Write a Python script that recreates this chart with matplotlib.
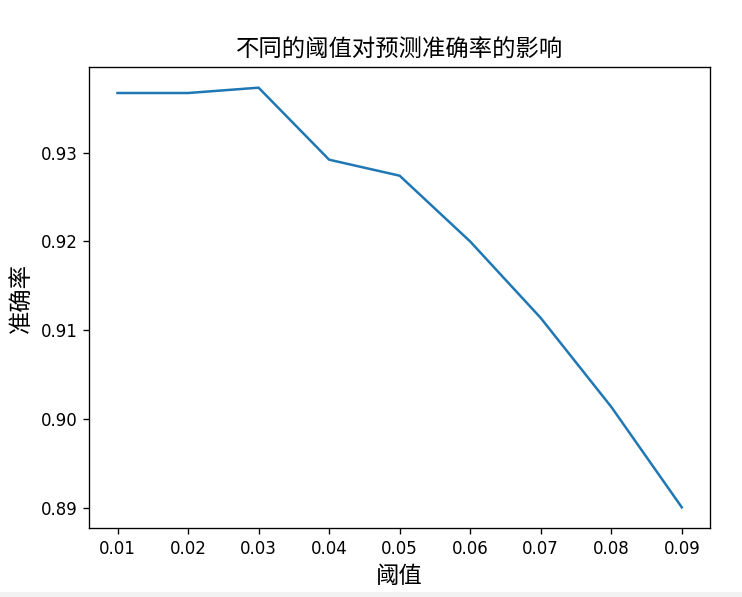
import matplotlib
matplotlib.use("Agg")
import matplotlib.pyplot as plt
from matplotlib.patches import Rectangle

plt.rcParams['font.family'] = ['Noto Sans CJK SC', 'DejaVu Sans']

thresholds = [0.01, 0.02, 0.03, 0.04, 0.05, 0.06, 0.07, 0.08, 0.09]
accuracy = [0.9367, 0.9367, 0.9373, 0.9292, 0.9274, 0.9200, 0.9114, 0.9014, 0.8901]
yticks = [0.89, 0.90, 0.91, 0.92, 0.93]

DPI = 120
fig = plt.figure(figsize=(742 / DPI, 597 / DPI), dpi=DPI)
W, H = 742, 597
ax = fig.add_axes([89.3 / W, (H - 528.3) / H, (710 - 89.3) / W, (528.3 - 66.7) / H])

ax.plot(thresholds, accuracy, color='#1f77b4', linewidth=1.5)
ax.set_xticks(thresholds)
ax.set_xticklabels([f"{t:.2f}" for t in thresholds], family='DejaVu Sans')
ax.set_yticks(yticks)
ax.set_yticklabels([f"{t:.2f}" for t in yticks], family='DejaVu Sans')
ax.tick_params(labelsize=10)

ax.set_title('不同的阈值对预测准确率的影响', fontsize=14)
ax.set_xlabel('阈值', fontsize=14)
ax.set_ylabel('准确率', fontsize=14)

fig.patches.append(Rectangle((0, 0), 1, 5.5 / H, transform=fig.transFigure,
                             facecolor='#f2f2f2', edgecolor='none', zorder=-1))

fig.savefig('out.png', dpi=DPI)
